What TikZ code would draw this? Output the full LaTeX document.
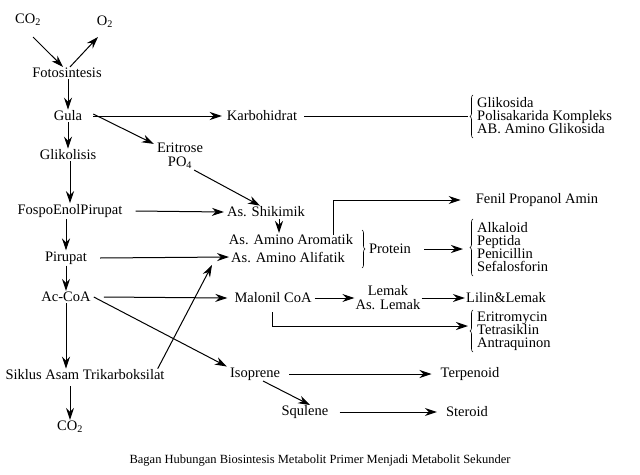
\documentclass[tikz,border=0pt]{standalone}
\usepackage{fontspec}
\setmainfont{Liberation Serif}
\usetikzlibrary{arrows.meta,decorations.pathreplacing}
\begin{document}
\begin{tikzpicture}[x=1pt,y=-1pt,
  every node/.style={inner sep=1pt,font=\fontsize{14.5}{15}\selectfont},
  ar/.style={-{Stealth[length=12pt,width=8pt]},line width=1pt},
  ln/.style={line width=1pt},
  br/.style={decorate,decoration={brace,amplitude=3pt},line width=0.6pt},
  lst/.style={align=left,anchor=west,font=\fontsize{14.5}{15}\selectfont}]
\useasboundingbox (0,0) rectangle (640,474);
\node (co2a) at (28,20) {CO\textsubscript{2}};
\node (o2) at (105,22) {O\textsubscript{2}};
\node (foto) at (67,73) {Fotosintesis};
\node (gula) at (68,116) {Gula};
\node (glik) at (68,155) {Glikolisis};
\node (fep) at (70,211) {FospoEnolPirupat};
\node (pir) at (66,258) {Pirupat};
\node (acoa) at (66,297) {Ac-CoA};
\node (sik) at (85,375) {Siklus Asam Trikarboksilat};
\node (co2b) at (70,427) {CO\textsubscript{2}};
\node (karb) at (262,116) {Karbohidrat};
\node[align=center] (eri) at (180,156) {Eritrose\\[-1pt]PO\textsubscript{4}};
\node (shik) at (266,212) {As. Shikimik};
\node (arom) at (291,240) {As. Amino Aromatik};
\node (alif) at (288,257) {As. Amino Alifatik};
\node (prot) at (390,249) {Protein};
\node (fenil) at (537,200) {Fenil Propanol Amin};
\node[lst] (l1) at (476,116) {Glikosida\\[-2pt]Polisakarida Kompleks\\[-2pt]AB. Amino Glikosida};
\node[lst] (l2) at (476,247) {Alkaloid\\[-2pt]Peptida\\[-2pt]Penicillin\\[-2pt]Sefalosforin};
\node (mal) at (273,298) {Malonil CoA};
\node[align=center] (lem) at (388,298) {Lemak\\[-1pt]As. Lemak};
\node (lilin) at (506,298) {Lilin\&Lemak};
\node[lst] (l3) at (476,331) {Eritromycin\\[-2pt]Tetrasiklin\\[-2pt]Antraquinon};
\node (iso) at (255,374) {Isoprene};
\node (terp) at (470,374) {Terpenoid};
\node (squ) at (305,412) {Squlene};
\node (ster) at (467,412) {Steroid};
\node (cap) at (320,461) {\fontsize{12.5}{14}\selectfont Bagan Hubungan Biosintesis Metabolit Primer Menjadi Metabolit Sekunder};
% braces
\draw[br] (473,138) -- (473,95);
\draw[br] (473,276) -- (473,219);
\draw[br] (473,352) -- (473,310);
\draw[br] (362,230) -- (362,268);
% arrows
\draw[ar] (33,37) -- ([xshift=-4pt]foto.north);
\draw[ar] ([xshift=3pt]foto.north) -- (98,37);
\draw[ar] (foto.south -| gula) -- (gula.north);
\draw[ar] (gula) -- (glik);
\draw[ar] (glik.south -| 70,0) -- (fep.north);
\draw[ar] (fep.south -| pir) -- (pir.north);
\draw[ar] (pir) -- (acoa);
\draw[ar] (acoa.south) -- (acoa.south |- sik.north);
\draw[ar] (70,386) -- (co2b.north);
\draw[ar] ([xshift=10pt]gula.east) -- ([xshift=-4pt]karb.west);
\draw[ln] ([xshift=6pt]karb.east) -- (468,116);
\draw[ar] ([xshift=10pt,yshift=2pt]gula.east) -- ([xshift=-2pt,yshift=-2pt]eri.north west);
\draw[ar] ([xshift=-10pt]eri.south east) -- ([xshift=-6pt]shik.north);
\draw[ar] ([xshift=12pt]fep.east) -- ([xshift=-2pt]shik.west);
\draw[ar] (279,219) -- (279,233);
\draw[ln] (333,235) coordinate (t) -- (t |- fenil) coordinate (u);
\draw[ar] (u) -- ([xshift=-14pt]fenil.west);
\draw[ar] ([xshift=12pt]prot.east) -- (463,249);
\draw[ar] ([xshift=12pt]pir.east) -- ([xshift=-1pt]alif.west);
\draw[ar] ([xshift=12pt]acoa.east) -- ([xshift=-6pt]mal.west);
\draw[ar] ([xshift=2pt]acoa.east) -- ([xshift=-2pt]iso.north west);
\draw[ar] ([xshift=-8pt]sik.north east) -- (212,265);
\draw[ar] ([xshift=2pt]mal.east) -- (lem.west |- mal);
\draw[ar] (lem.east |- mal) -- (lilin.west);
\draw[ln] (272,312) -- (272,326) coordinate (v);
\draw[ar] (v) -- (468,326);
\draw[ar] ([xshift=8pt]iso.east) -- ([xshift=-8pt]terp.west);
\draw[ar] (263,381) coordinate (w) -- (310,405) coordinate (z);
\draw[ar] ([xshift=10pt]squ.east) -- ([xshift=-8pt]ster.west);
\end{tikzpicture}
\end{document}
